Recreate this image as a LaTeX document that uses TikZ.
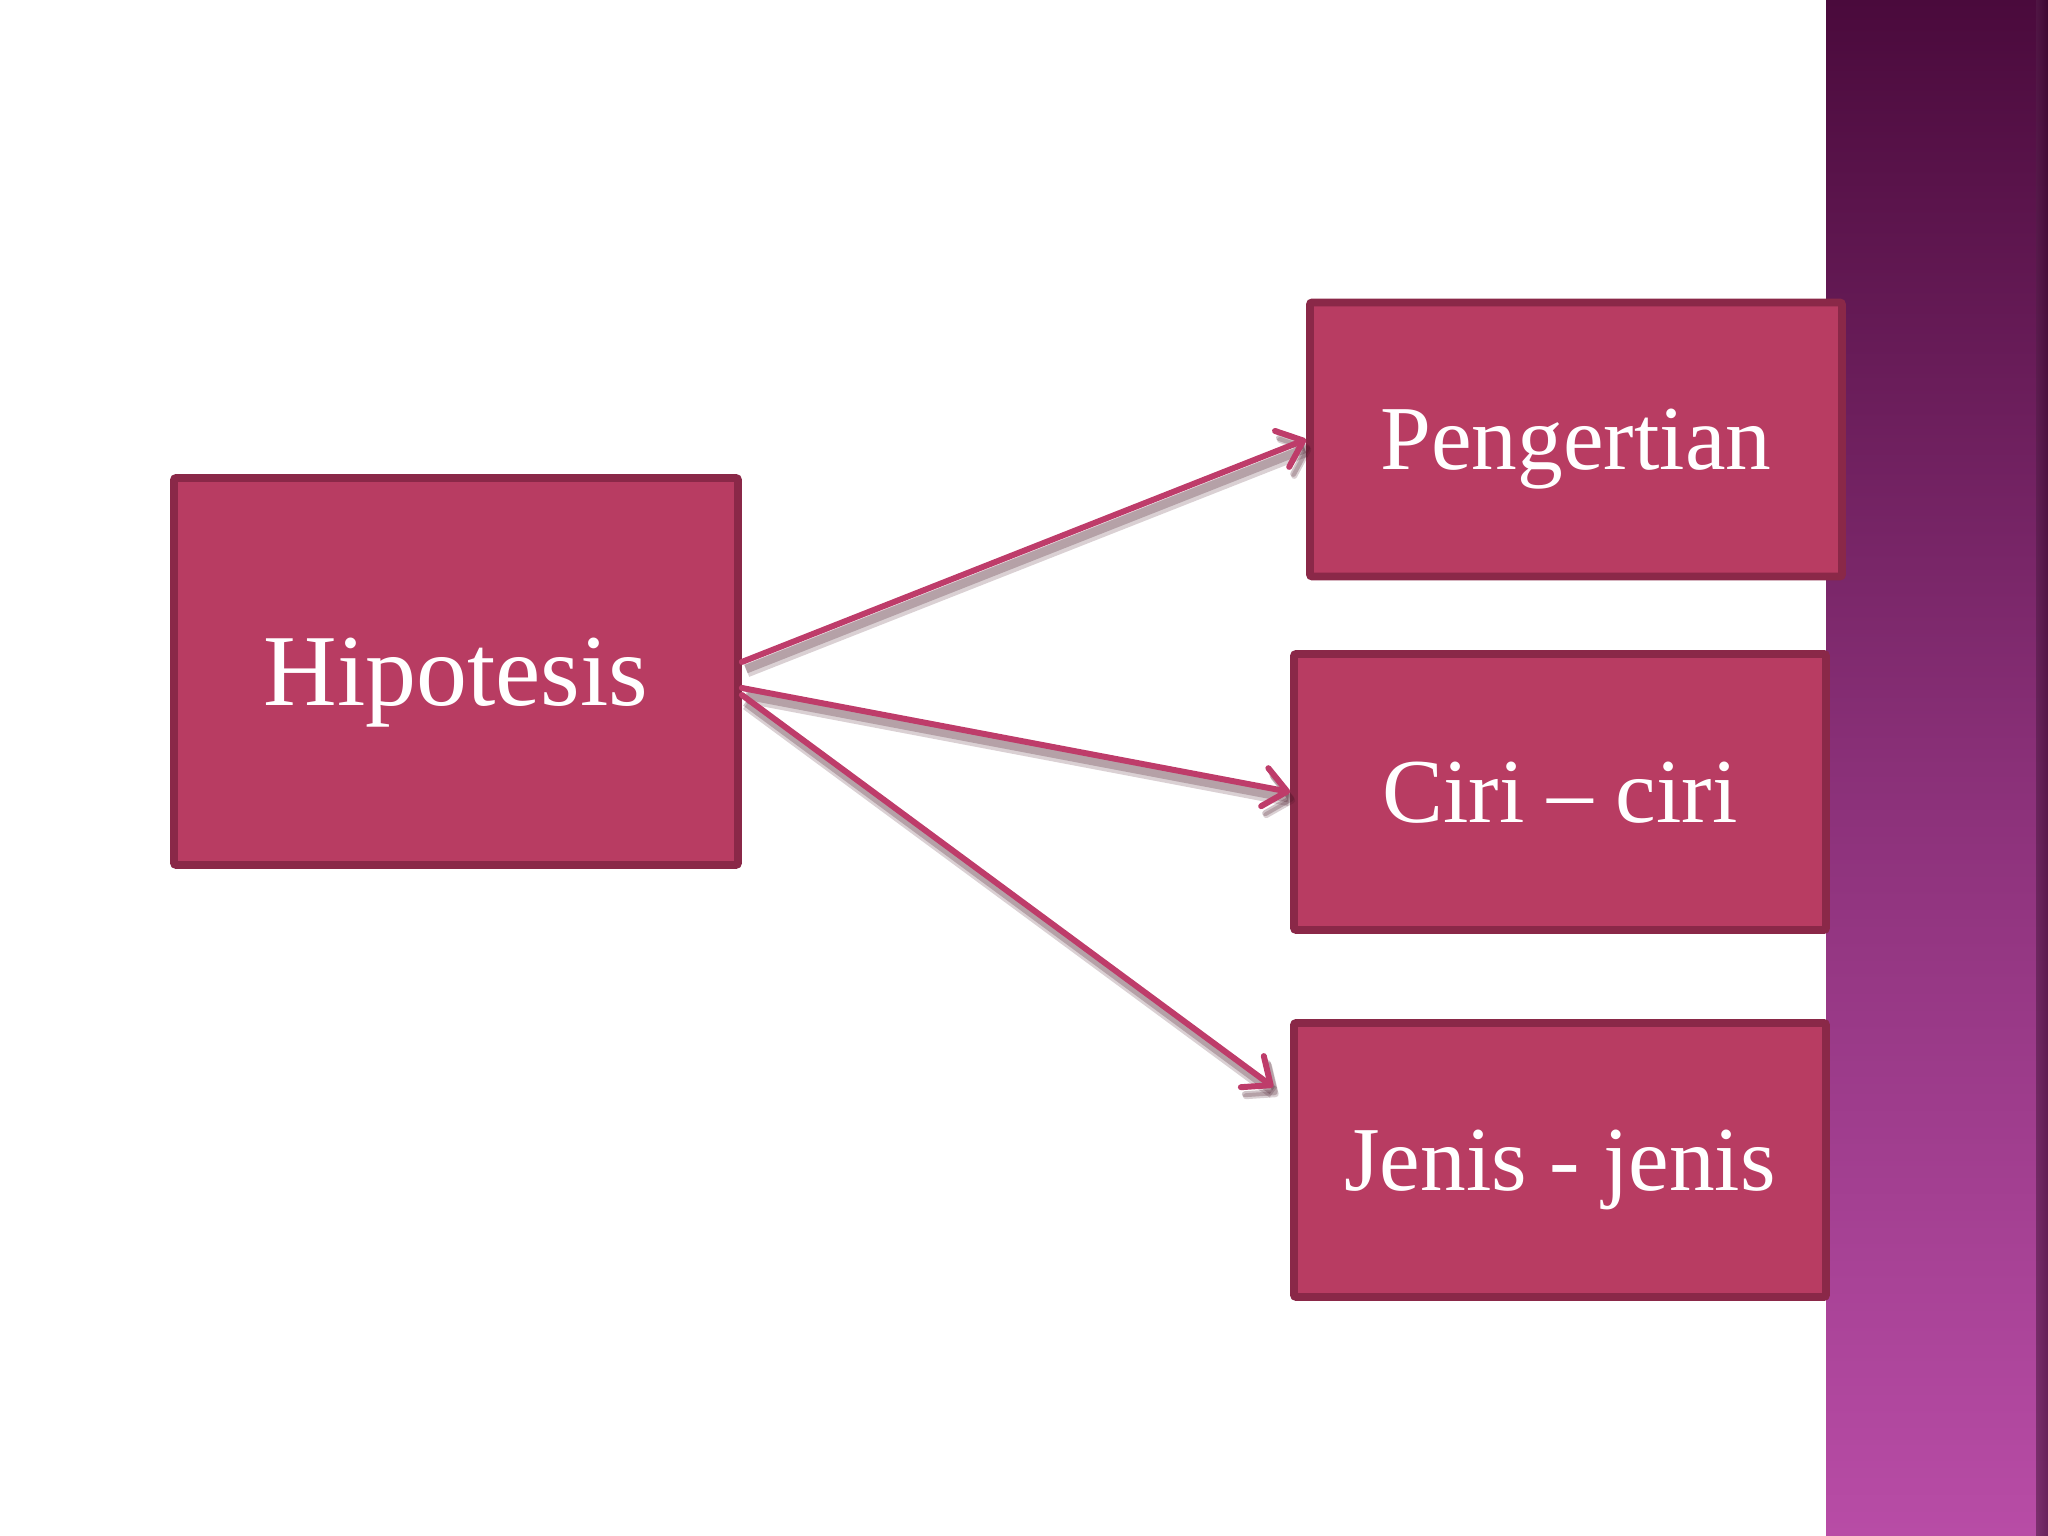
\documentclass[tikz,border=0pt]{standalone}
\usepackage{fontspec}
\setmainfont{Liberation Serif}
\usepackage{xcolor}
\usetikzlibrary{arrows.meta}

\definecolor{boxfill}{HTML}{B83C62}
\definecolor{boxline}{HTML}{8A2848}
\definecolor{arrowcol}{HTML}{BE3C6A}
\definecolor{bartop}{HTML}{4A0A3C}
\definecolor{barmid}{HTML}{8A3078}
\definecolor{barbot}{HTML}{B84CA6}

\begin{document}
\begin{tikzpicture}[
    topic/.style={draw=boxline, fill=boxfill, line width=2.2pt, rounded corners=0.6pt,
      text=white, minimum width=5.32cm, minimum height=2.74cm, inner sep=0pt,
      text depth=0pt, font=\fontsize{26}{31}\selectfont},
    link/.style={arrowcol, line width=1.7pt, line cap=round,
      -{Straight Barb[length=6.5pt,width=11pt,line width=1.7pt,round]},
      preaction={draw=boxline!50!black, opacity=0.25, line width=2.6pt,
        transform canvas={xshift=0.4mm,yshift=-0.7mm}},
      preaction={draw=boxline!50!black, opacity=0.2, line width=3.6pt,
        transform canvas={xshift=0.5mm,yshift=-0.9mm}}}
  ]
  \useasboundingbox (0,0) rectangle (20.48,15.36);

  % side bar
  \shade[top color=bartop, bottom color=barbot, middle color=barmid] (18.26,0) rectangle (20.48,15.36);
  \shade[left color=barmid!60!black, right color=bartop!70!black, opacity=0.6] (20.36,0) rectangle (20.48,15.36);

  \node[topic, minimum width=5.64cm, minimum height=3.87cm, font=\fontsize{29}{35}\selectfont]
    (hip) at (4.56,8.645) {Hipotesis};
  \node[topic] (peng) at (15.76,10.965) {Pengertian};
  \node[topic, minimum height=2.76cm] (ciri) at (15.60,7.44) {Ciri -- ciri};
  \node[topic] (jenis) at (15.60,3.76) {Jenis - jenis};

  \coordinate (h1) at ([yshift=0.95mm]hip.east);
  \coordinate (h2) at ([yshift=-1.65mm]hip.east);
  \coordinate (h3) at ([yshift=-2.35mm]hip.east);
  \coordinate (jin) at ([xshift=-1.7mm,yshift=7.3mm]jenis.west);

  \draw[link] (h1) -- (peng.west);
  \draw[link] (h2) -- (ciri.west);
  \draw[link] (h3) -- (jin);
\end{tikzpicture}
\end{document}
